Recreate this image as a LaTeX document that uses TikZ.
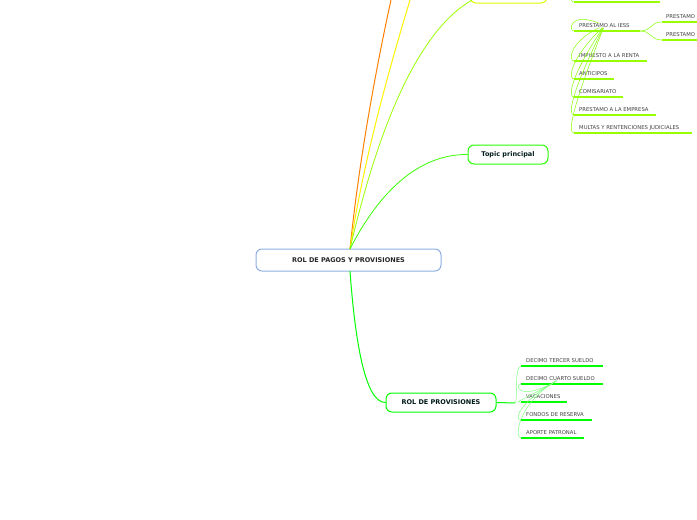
\documentclass[tikz,border=0pt]{standalone}
\usepackage{fontspec}
\setmainfont{DejaVu Sans}
\begin{document}
\begin{tikzpicture}[x=1pt,y=-1pt,
  leaf/.style={font=\fontsize{5.3}{6}\selectfont,text=black!75,anchor=base west,inner sep=0},
  main/.style={draw,rounded corners=6pt,line width=1pt,font=\bfseries\fontsize{6.5}{8}\selectfont,text=black!80!teal,minimum height=19pt,inner sep=0}]
\useasboundingbox (0,0) rectangle (697,520);
\node[main,draw=cyan!50!blue!45,minimum width=185pt,minimum height=22pt,text=black!85] (c) at (348.5,260) {ROL DE PAGOS Y PROVISIONES};
\node[main,draw=green!80!lime,minimum width=80pt] (tp) at (508,154.5) {Topic principal};
\node[main,draw=green,minimum width=110pt] (rp) at (441,402.5) {ROL DE PROVISIONES};
\draw[draw=lime!50!yellow,line width=1pt,rounded corners=6pt] (470,-10) rectangle (547,3);
\coordinate (o1) at (391,0); \coordinate (o2) at (410,0); \coordinate (o3) at (472,0);
\draw[orange,line width=1pt] (350,249) .. controls (360,150) and (380,50) .. (o1);
\draw[yellow,line width=1pt] (350,249) .. controls (365,150) and (395,50) .. (o2);
\draw[lime!80!green,line width=0.8pt] (350,249) .. controls (380,120) and (420,30) .. (o3);
\draw[green!70!lime,line width=0.8pt] (350,249) .. controls (380,190) and (420,154) .. (tp.west);
\draw[green,line width=1pt] (350,271) .. controls (355,340) and (365,403) .. (rp.west);
% upper leaves
\coordinate (ub) at (562,0);
\foreach \t/\y/\e/\n in {{}/2/660/a, PRESTAMO AL IESS/31/640/b, IMPUESTO A LA RENTA/61/647/c, ANTICIPOS/79/614/d, COMISARIATO/97/623/e, PRESTAMO A LA EMPRESA/115/656/f, MULTAS Y RENTENCIONES JUDICIALES/133/692/g}{
  \node[leaf] (u\n) at (579,\y-3.5) {\t};
  \coordinate (ul\n) at (574,\y);
  \draw[lime!70!green,line width=0.5pt] (ub) .. controls (570,\y-20) and (568,\y) .. (ul\n);
  \draw[lime!80!green,line width=1.2pt] (ul\n) -- (\e,\y);
}
\foreach \y/\n in {22/p, 40/q}{
  \node[leaf] (s\n) at (666,\y-3.5) {PRESTAMO};
  \coordinate (sl\n) at (662,\y);
  \draw[lime!70!green,line width=0.5pt] (640,31) .. controls (652,31) and (650,\y) .. (sl\n);
  \draw[lime!80!green,line width=1.2pt] (sl\n) -- (697,\y);
}
% provisions leaves
\coordinate (pb) at (515,403);
\draw[green,line width=1pt] (rp.east) -- (pb);
\foreach \t/\y/\e/\n in {DECIMO TERCER SUELDO/366/603/a, DECIMO CUARTO SUELDO/384/603/b, VACACIONES/402/567/c, FONDOS DE RESERVA/420/592/d, APORTE PATRONAL/438/584/e}{
  \node[leaf] (p\n) at (526,\y-3.5) {\t};
  \coordinate (pl\n) at (521,\y);
  \draw[green!50,line width=0.5pt] (pb) .. controls (518,403) and (514,\y) .. (pl\n);
  \draw[green,line width=1.2pt] (pl\n) -- (\e,\y);
}
\end{tikzpicture}
\end{document}
